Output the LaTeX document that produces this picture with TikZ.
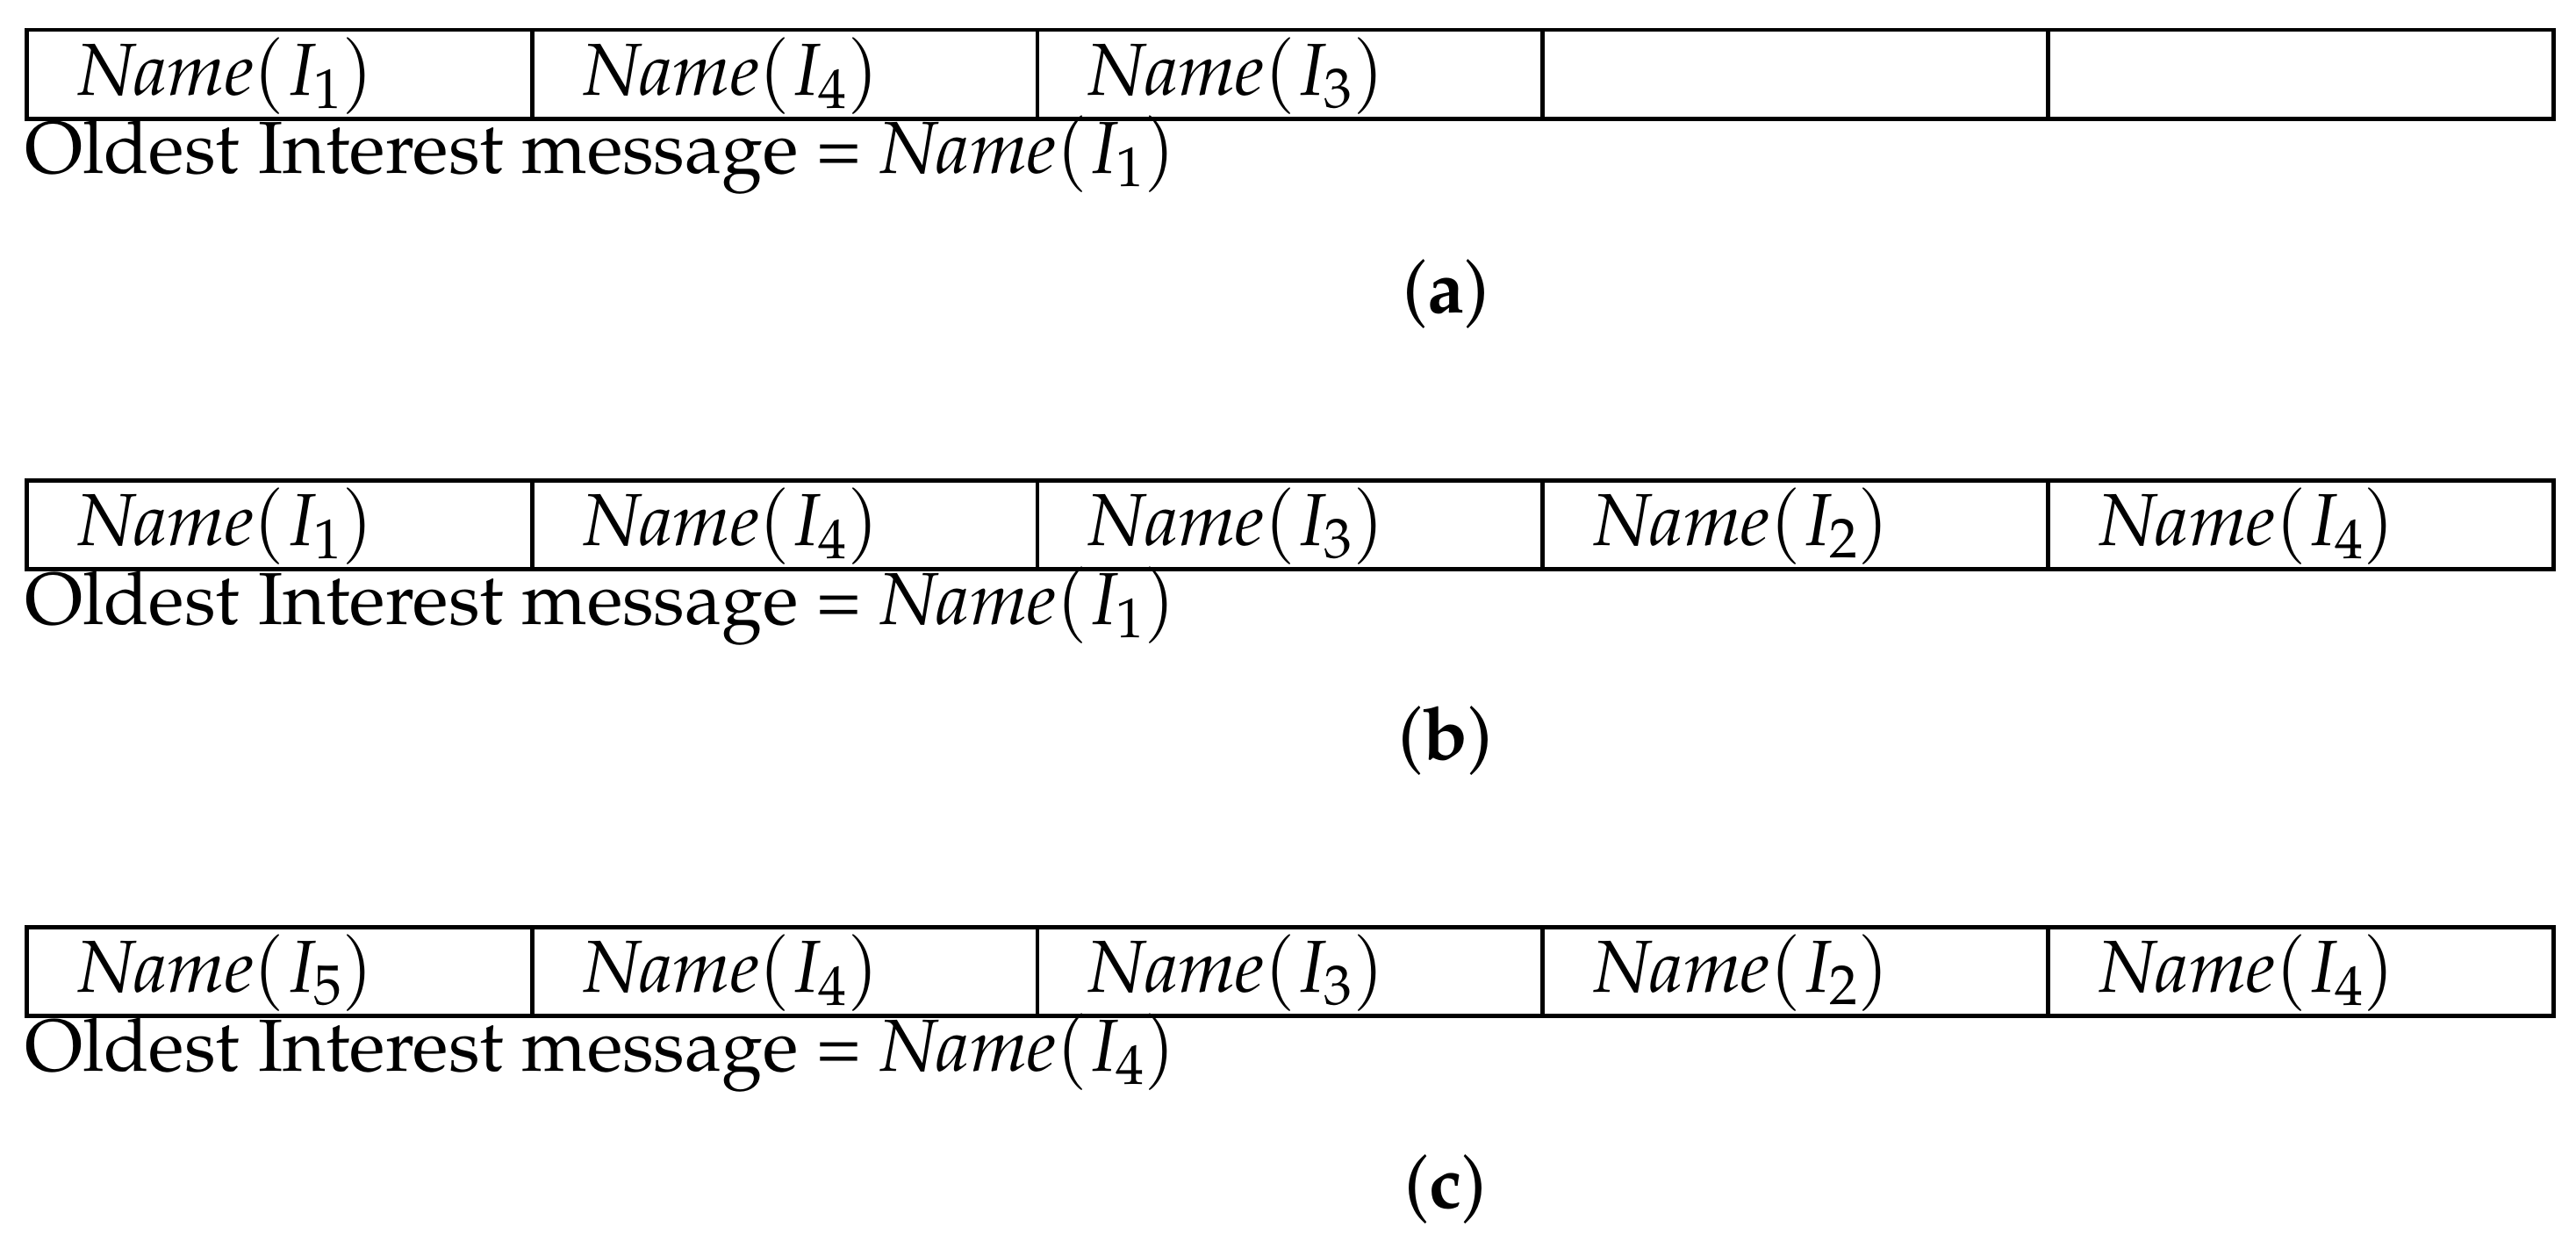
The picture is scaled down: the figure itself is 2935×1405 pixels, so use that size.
\documentclass[tikz,border=0pt]{standalone}
\usepackage[T1]{fontenc}
\usepackage{mathpazo}
\begin{document}
\begin{tikzpicture}[x=1pt,y=-1pt,
  cell/.style={draw,line width=4.5pt,minimum width=576pt,minimum height=101pt,anchor=north west,inner sep=0pt},
  lab/.style={anchor=base west,inner sep=0pt,font=\fontsize{84}{100}\selectfont},
  captext/.style={anchor=base,inner sep=0pt,font=\fontsize{84}{100}\selectfont}]
\useasboundingbox (0,0) rectangle (2935,1405);
\foreach \r/\top/\oy/\cy/\cl/\ol/\a/\b/\c/\d/\e in {
 a/32/197/356/a/1/1/4/3//,
 b/545/711/865/b/1/1/4/3/2/4,
 c/1054/1220/1376/c/4/5/4/3/2/4}{
  \foreach \i/\t in {1/\a,2/\b,3/\c,4/\d,5/\e}{
    \node[cell] (\r\i) at ({28+(\i-1)*575.8},\top) {};
    \edef\cellv{\t}
    \ifx\cellv\empty\else
      \node[lab] (\r\i t) at ({28+(\i-1)*575.8+60},\top+76) {$\mathit{Name}(I_{\cellv})$};
    \fi
  }
  \node[lab] (\r o) at (28,\oy) {Oldest Interest message = $\mathit{Name}(I_{\ol})$};
  \node[captext] (\r cap) at (1647,\cy) {(\textbf{\cl})};
}
\end{tikzpicture}
\end{document}
